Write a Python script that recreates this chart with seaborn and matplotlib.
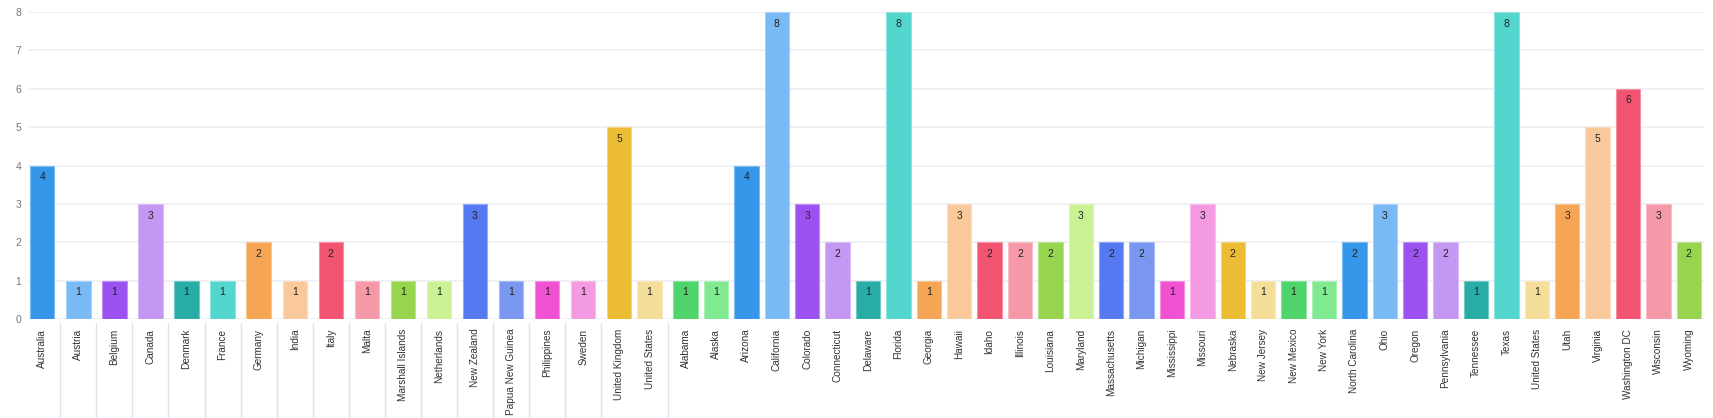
import seaborn as sns
import matplotlib.pyplot as plt
import matplotlib.colors as mcolors
import numpy as np
import pandas as pd

# countries first, then the US states (second "United States" sits among states)
categories = ["Australia", "Austria", "Belgium", "Canada", "Denmark", "France",
              "Germany", "India", "Italy", "Malta", "Marshall Islands",
              "Netherlands", "New Zealand", "Papua New Guinea", "Philippines",
              "Sweden", "United Kingdom", "United States",
              "Alabama", "Alaska", "Arizona", "California", "Colorado",
              "Connecticut", "Delaware", "Florida", "Georgia", "Hawaii", "Idaho",
              "Illinois", "Louisiana", "Maryland", "Massachusetts", "Michigan",
              "Mississippi", "Missouri", "Nebraska", "New Jersey", "New Mexico",
              "New York", "North Carolina", "Ohio", "Oregon", "Pennsylvania",
              "Tennessee", "Texas", "United States", "Utah", "Virginia",
              "Washington DC", "Wisconsin", "Wyoming"]
values = [4, 1, 1, 3, 1, 1, 2, 1, 2, 1, 1, 1, 3, 1, 1, 1, 5, 1,
          1, 1, 4, 8, 3, 2, 1, 8, 1, 3, 2, 2, 2, 3, 2, 2, 1, 3, 2, 1, 1, 1,
          2, 3, 2, 2, 1, 8, 1, 3, 5, 6, 3, 2]
# outer groups along the axis (sizes, in order)
group_sizes = [1] * 16 + [2] + [34]

base_colors = ["#3596ea", "#79b9f4", "#9c52f0", "#c497f2", "#27ada5", "#52d6ce",
               "#f5a553", "#f9c99c", "#f05470", "#f599a8", "#98d54e", "#caf193",
               "#5479f0", "#7a97f0", "#f052d2", "#f49ae2", "#ecbd34", "#f4de99",
               "#4fd46b", "#80ea91"]

group_id = np.repeat(np.arange(len(group_sizes)), group_sizes)
gap = 0.186
pos = np.arange(len(categories)) + gap * group_id

df = pd.DataFrame({"pos": pos, "cat": categories, "val": values})
levels = list(dict.fromkeys(categories))
palette = {c: base_colors[i % len(base_colors)] for i, c in enumerate(levels)}

sns.set_style("white")
plt.rcParams["font.family"] = ["Liberation Sans", "DejaVu Sans"]

fig = plt.figure(figsize=(17.13, 4.18), dpi=100)
ax = fig.add_axes([28 / 1713, 99 / 418, 1676 / 1713, 307 / 418])

sns.barplot(data=df, x="pos", y="val", hue="cat", hue_order=levels,
            palette=palette, native_scale=True, width=0.8, legend=False,
            saturation=1, ax=ax, zorder=3)

for patch in ax.patches:
    fc = np.array(mcolors.to_rgb(patch.get_facecolor()))
    patch.set_edgecolor(fc + (1 - fc) * 0.35)
    patch.set_linewidth(0.8)

for cont in ax.containers:
    ax.bar_label(cont, fmt="%d", padding=-12, fontsize=7.5, color="#222222")

ax.set_xlim(pos[0] - 0.47, pos[-1] + 0.5)
ax.set_ylim(0, 8)
ax.set_yticks(range(0, 9))
ax.set_xticks(pos)
ax.set_xticklabels(categories, rotation=90, fontsize=7.2, color="#333333")
ax.tick_params(axis="x", length=0, pad=7)
ax.tick_params(axis="y", length=0, pad=5, labelsize=7.5, labelcolor="#777777")
ax.yaxis.grid(True, color="#eceff4", linewidth=1.2, zorder=0)
ax.set_axisbelow(True)
ax.set_xlabel("")
ax.set_ylabel("")
for s in ax.spines.values():
    s.set_visible(False)

# separators between outer groups, below the axis
ends = np.cumsum(group_sizes)[:-1]
for e in ends:
    xs = (pos[e - 1] + pos[e]) / 2
    ax.plot([xs, xs], [-0.013, -0.33], transform=ax.get_xaxis_transform(),
            color="#dde3ee", linewidth=1, clip_on=False)

fig.savefig("out.png", dpi=100)
